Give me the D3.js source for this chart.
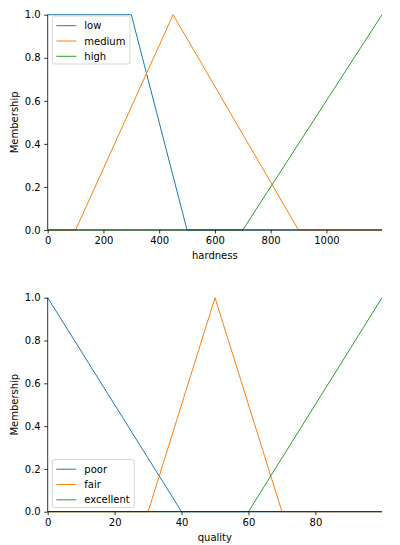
<!DOCTYPE html>
<html>
<head>
<meta charset="utf-8">
<script src="https://cdn.jsdelivr.net/npm/d3@7"></script>
<style>
  body { margin: 0; background: #fff; }
  text { font-family: "DejaVu Sans", sans-serif; }
</style>
</head>
<body>
<div id="chart"></div>
<script>
// Membership functions (breakpoints)
var hardnessMax = 1199.5;
var hardnessTicks = [0, 200, 400, 600, 800, 1000];
var hardnessNames = ["low", "medium", "high"];
var hardnessLow = [[0, 1], [300, 1], [500, 0], [1199.5, 0]];
var hardnessMedium = [[0, 0], [100, 0], [450, 1], [900, 0], [1199.5, 0]];
var hardnessHigh = [[0, 0], [700, 0], [1199.5, 1]];

var qualityMax = 99.9;
var qualityTicks = [0, 20, 40, 60, 80];
var qualityNames = ["poor", "fair", "excellent"];
var qualityPoor = [[0, 1], [40, 0], [99.9, 0]];
var qualityFair = [[0, 0], [30, 0], [50, 1], [70, 0], [99.9, 0]];
var qualityExcellent = [[0, 0], [60, 0], [99.9, 1]];

var yTicks = [0, 0.2, 0.4, 0.6, 0.8, 1.0];
var colors = ["#1f77b4", "#ff7f0e", "#2ca02c"];

var svgWidth = 400;
var svgHeight = 545;

var svg = d3.select("#chart")
    .append("svg")
    .attr("width", svgWidth)
    .attr("height", svgHeight);

function drawPanel(opts) {
    var left = 47.7, right = 382;
    var g = svg.append("g");

    var x = d3.scaleLinear().domain([0, opts.xMax]).range([left, right]);
    var y = d3.scaleLinear().domain([0, 1]).range([opts.bottom, opts.top]);

    var line = d3.line().x(d => x(d[0])).y(d => y(d[1]));

    opts.series.forEach(function (s, i) {
        g.append("path")
            .attr("d", line(s))
            .attr("fill", "none")
            .attr("stroke", colors[i])
            .attr("stroke-width", 1);
    });

    var xAxis = g.append("g")
        .attr("transform", `translate(0, ${opts.bottom})`)
        .call(d3.axisBottom(x).tickValues(opts.xTicks).tickSize(3.5).tickPadding(3.5).tickFormat(d3.format("d")));
    var yAxis = g.append("g")
        .attr("transform", `translate(${left}, 0)`)
        .call(d3.axisLeft(y).tickValues(yTicks).tickSize(3.5).tickPadding(3.5).tickFormat(d3.format(".1f")));

    [xAxis, yAxis].forEach(function (a) {
        a.select(".domain").attr("stroke", "#000").attr("stroke-width", 0.8)
            .attr("d", a === xAxis ? `M${left},0H${right}` : `M0,${opts.bottom}V${opts.top}`);
        a.selectAll(".tick line").attr("stroke", "#000").attr("stroke-width", 0.8);
        a.selectAll(".tick text").attr("font-size", 10).attr("fill", "#000")
            .style("font-family", "DejaVu Sans, sans-serif");
    });

    g.append("text")
        .attr("x", (left + right) / 2)
        .attr("y", opts.bottom + 29)
        .attr("text-anchor", "middle")
        .attr("font-size", 10)
        .text(opts.xLabel);

    g.append("text")
        .attr("transform", `translate(18, ${(opts.top + opts.bottom) / 2}) rotate(-90)`)
        .attr("text-anchor", "middle")
        .attr("font-size", 10)
        .text("Membership");

    // legend
    var lg = g.append("g").attr("transform", `translate(52.3, ${opts.legendTop})`);
    lg.append("rect")
        .attr("width", opts.legendWidth)
        .attr("height", 48)
        .attr("rx", 2)
        .attr("fill", "#fff")
        .attr("fill-opacity", 0.8)
        .attr("stroke", "#ccc")
        .attr("stroke-width", 0.8);
    opts.names.forEach(function (n, i) {
        var ly = 9.7 + i * 15.3;
        lg.append("line")
            .attr("x1", 4).attr("x2", 24)
            .attr("y1", ly).attr("y2", ly)
            .attr("stroke", colors[i]).attr("stroke-width", 1);
        lg.append("text")
            .attr("x", 32)
            .attr("y", ly + 3.6)
            .attr("font-size", 10)
            .text(n);
    });
}

drawPanel({
    top: 14.7, bottom: 230, xMax: hardnessMax, xTicks: hardnessTicks,
    series: [hardnessLow, hardnessMedium, hardnessHigh],
    names: hardnessNames, xLabel: "hardness", legendTop: 16, legendWidth: 77.7
});

drawPanel({
    top: 297.7, bottom: 511.7, xMax: qualityMax, xTicks: qualityTicks,
    series: [qualityPoor, qualityFair, qualityExcellent],
    names: qualityNames, xLabel: "quality", legendTop: 459.5, legendWidth: 82
});
</script>
</body>
</html>
